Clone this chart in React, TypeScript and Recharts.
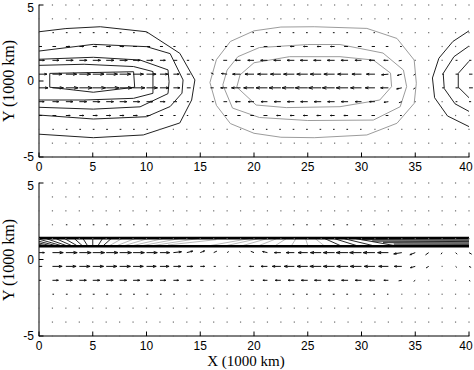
import React from 'react';
import { ComposedChart, Scatter, XAxis, YAxis } from 'recharts';

// grid of the vector field (1000 km)
const X_COLS = [0, 1.25, 2.5, 3.75, 5, 6.25, 7.5, 8.75, 10, 11.25, 12.5, 13.75, 15, 16.25, 17.5, 18.75, 20, 21.25, 22.5, 23.75, 25, 26.25, 27.5, 28.75, 30, 31.25, 32.5, 33.75, 35, 36.25, 37.5, 38.75, 40];
const Y_ROWS = [5, 4.09, 3.18, 2.27, 1.36, 0.45, -0.45, -1.36, -2.27, -3.18, -4.09, -5];
const X_TICKS = [0, 5, 10, 15, 20, 25, 30, 35, 40];
const Y_TICKS = [-5, 0, 5];

// upper panel: u component per row (top row first)
const TOP_U = [
  [0,0,0,0,0,0,0,0,0,0, 0,0,0,0,0,0,0,0,0,0, 0,0,0,0,0,0,0,0,0,0, 0,0,0],
  [0.03,0.04,0.04,0.05,0.05,0.05,0.05,0.04,0.04,0.03, 0.02,0.01,0,-0.01,-0.02,-0.03,-0.04,-0.04,-0.05,-0.05, -0.05,-0.05,-0.05,-0.05,-0.04,-0.04,-0.03,-0.02,-0.01,0, 0.01,0.01,0.02],
  [0.12,0.14,0.16,0.17,0.17,0.17,0.17,0.16,0.14,0.12, 0.09,0.05,0.01,-0.04,-0.09,-0.12,-0.14,-0.15,-0.16,-0.16, -0.16,-0.16,-0.16,-0.16,-0.14,-0.13,-0.1,-0.07,-0.03,0, 0.03,0.04,0.05],
  [0.28,0.34,0.38,0.4,0.4,0.4,0.39,0.37,0.34,0.28, 0.2,0.12,0.03,-0.1,-0.2,-0.28,-0.32,-0.35,-0.37,-0.38, -0.39,-0.39,-0.38,-0.37,-0.34,-0.3,-0.24,-0.16,-0.06,0.01, 0.06,0.1,0.12],
  [0.5,0.61,0.68,0.72,0.72,0.72,0.71,0.66,0.61,0.5, 0.36,0.22,0.06,-0.18,-0.36,-0.5,-0.58,-0.63,-0.66,-0.68, -0.7,-0.7,-0.68,-0.66,-0.61,-0.54,-0.43,-0.29,-0.11,0.01, 0.11,0.18,0.22],
  [0.74,0.89,1.0,1.05,1.05,1.05,1.03,0.97,0.89,0.74, 0.53,0.32,0.08,-0.26,-0.53,-0.74,-0.84,-0.92,-0.97,-1.0, -1.02,-1.02,-1.0,-0.97,-0.89,-0.79,-0.63,-0.42,-0.16,0.02, 0.16,0.26,0.32],
  [0.84,1.02,1.14,1.2,1.2,1.2,1.18,1.1,1.02,0.84, 0.6,0.36,0.1,-0.3,-0.6,-0.84,-0.96,-1.06,-1.1,-1.14, -1.16,-1.16,-1.14,-1.1,-1.02,-0.9,-0.72,-0.48,-0.18,0.02, 0.18,0.3,0.36],
  [0.48,0.58,0.65,0.68,0.68,0.68,0.67,0.63,0.58,0.48, 0.34,0.2,0.05,-0.17,-0.34,-0.48,-0.54,-0.6,-0.63,-0.65, -0.66,-0.66,-0.65,-0.63,-0.58,-0.51,-0.41,-0.27,-0.1,0.01, 0.1,0.17,0.2],
  [0.3,0.36,0.4,0.42,0.42,0.42,0.41,0.39,0.36,0.3, 0.21,0.13,0.03,-0.1,-0.21,-0.3,-0.34,-0.37,-0.39,-0.4, -0.41,-0.41,-0.4,-0.39,-0.36,-0.32,-0.25,-0.17,-0.06,0.01, 0.06,0.1,0.12],
  [0.11,0.13,0.15,0.16,0.16,0.16,0.16,0.15,0.13,0.11, 0.08,0.05,0.01,-0.04,-0.08,-0.11,-0.13,-0.14,-0.15,-0.15, -0.15,-0.15,-0.15,-0.15,-0.13,-0.12,-0.09,-0.06,-0.03,0, 0.03,0.04,0.05],
  [0.03,0.04,0.04,0.05,0.05,0.05,0.05,0.04,0.04,0.03, 0.02,0.01,0,-0.01,-0.02,-0.03,-0.04,-0.04,-0.05,-0.05, -0.05,-0.05,-0.05,-0.05,-0.04,-0.04,-0.03,-0.02,-0.01,0, 0.01,0.01,0.02],
  [0,0,0,0,0,0,0,0,0,0, 0,0,0,0,0,0,0,0,0,0, 0,0,0,0,0,0,0,0,0,0, 0,0,0],
];
// [row, col, v] for the few tilted arrows
const TOP_TILT = [[4,13,0.08],[5,13,0.12],[5,14,0.06],[4,27,-0.05],[5,26,-0.06],[5,27,-0.12],[5,28,-0.1],[6,27,-0.1],[6,28,-0.12],[7,26,-0.06],[7,27,-0.1]];

// lower panel
const BOT_U = [
  [0,0,0,0,0,0,0,0,0,0, 0,0,0,0,0,0,0,0,0,0, 0,0,0,0,0,0,0,0,0,0, 0,0,0],
  [0,0,0,0,0,0,0,0,0,0, 0,0,0,0,0,0,0,0,0,0, 0,0,0,0,0,0,0,0,0,0, 0,0,0],
  [0,0,0,0,0,0,0,0,0,0, 0,0,0,0,0,0,0,0,0,0, 0,0,0,0,0,0,0,0,0,0, 0,0,0],
  [0.08,0.12,0.14,0.15,0.15,0.15,0.15,0.14,0.13,0.12, 0.1,0.08,0.05,0.02,-0.02,-0.05,-0.08,-0.1,-0.12,-0.13, -0.14,-0.15,-0.15,-0.15,-0.14,-0.13,-0.12,-0.1,-0.07,-0.04, 0,0.03,0.05],
  [0,0,0,0,0,0,0,0,0,0, 0,0,0,0,0,0,0,0,0,0, 0,0,0,0,0,0,0,0,0,0, 0,0,0],
  [0.5,1.0,1.05,1.1,1.1,1.1,1.1,1.05,1.0,0.9, 0.75,0.55,0.4,0.3,0.15,-0.12,-0.3,-0.45,-0.6,-0.75, -0.9,-1.0,-1.05,-1.1,-1.1,-1.1,-1.0,-0.75,-0.5,-0.3, -0.1,0.15,0.25],
  [0.3,0.9,0.95,1.0,1.0,1.0,1.0,0.95,0.9,0.85, 0.7,0.55,0.4,0.2,0,-0.2,-0.4,-0.6,-0.8,-0.95, -1.0,-1.05,-1.05,-1.05,-1.05,-1.0,-0.9,-0.7,-0.45,-0.25, -0.05,0.12,0.2],
  [0.2,0.55,0.6,0.65,0.65,0.65,0.65,0.62,0.6,0.55, 0.48,0.4,0.3,0.15,0,-0.15,-0.3,-0.42,-0.52,-0.58, -0.6,-0.62,-0.62,-0.6,-0.58,-0.52,-0.42,-0.3,-0.15,-0.05, 0,0.08,0.12],
  [0.05,0.15,0.17,0.18,0.18,0.18,0.18,0.17,0.16,0.15, 0.13,0.1,0.07,0.03,0,-0.03,-0.07,-0.1,-0.13,-0.15, -0.16,-0.17,-0.17,-0.17,-0.16,-0.15,-0.13,-0.1,-0.06,-0.03, 0,0.02,0.03],
  [0,0,0,0,0,0,0,0,0,0, 0,0,0,0,0,0,0,0,0,0, 0,0,0,0,0,0,0,0,0,0, 0,0,0],
  [0,0,0,0,0,0,0,0,0,0, 0,0,0,0,0,0,0,0,0,0, 0,0,0,0,0,0,0,0,0,0, 0,0,0],
  [0,0,0,0,0,0,0,0,0,0, 0,0,0,0,0,0,0,0,0,0, 0,0,0,0,0,0,0,0,0,0, 0,0,0],
];
const BOT_TILT = [[5,10,0.08],[5,11,0.14],[5,12,0.16],[5,13,0.14],[5,14,0.1],[5,15,0.1],[5,16,0.12],[5,17,0.1],[5,27,-0.12],[5,28,-0.2],[5,29,-0.22],[5,30,-0.15],[5,31,-0.15],[5,32,-0.15],[6,28,-0.12],[6,29,-0.15],[6,31,-0.1],[6,32,-0.1],[7,27,-0.05],[7,28,-0.1],[7,31,-0.08],[7,32,-0.08]];

// contours, upper panel
const TOP_BLACK = [
  [[0,3.24],[2.5,3.45],[5.7,3.57],[10,3.24],[13.1,1.82],[14.5,0.07],[14.2,-1.25],[13.1,-2.76],[9.7,-3.55],[5.05,-3.73],[0,-3.5]],
  [[0,1.97],[5.05,2.41],[10,2.26],[12.2,1.8],[13.4,0.07],[13.3,-0.8],[12.2,-1.68],[10,-2.35],[5.05,-2.5],[0,-2.24]],
  [[0,1.43],[5.05,1.56],[9.4,1.38],[12.0,0.73],[12.1,-0.05],[12.0,-0.83],[9.4,-1.7],[5.05,-1.85],[0,-1.73]],
  [[0,1.03],[4.2,1.1],[8.8,0.95],[10.6,0.62],[10.6,-0.81],[8.8,-1.14],[4.2,-1.25],[0,-1.25]],
  [[1.0,0.5],[8.8,0.61],[8.9,-0.41],[5.05,-0.74],[1.0,-0.41],[1.0,0.5]],
  [[40,3.3],[38.5,2.6],[37.2,1.5],[36.6,0.2],[36.8,-1.1],[38,-2.3],[40,-3.0]],
  [[40,2.3],[38.6,1.6],[37.6,0.5],[37.7,-0.5],[38.7,-1.5],[40,-2.0]],
  [[40,1.3],[39.0,0.5],[39.0,-0.4],[40,-1.1]],
];
const TOP_GRAY = [
  [[15.9,-0.1],[16.5,1.4],[17.8,2.6],[20,3.3],[22.5,3.55],[25.6,3.57],[30.5,3.46],[33.3,2.8],[34.9,1.38],[35.1,-0.15],[34.9,-1.47],[33.3,-2.78],[30.5,-3.55],[25.6,-3.73],[22.5,-3.7],[20,-3.44],[17.8,-2.8],[16.5,-1.6],[15.9,-0.1]],
  [[17.1,-0.26],[17.5,0.72],[18.5,1.6],[20.5,2.2],[25,2.4],[28,2.4],[32,1.84],[33.9,0.72],[34.2,-0.37],[33.6,-1.69],[31.1,-2.57],[25,-2.6],[20.5,-2.4],[18.0,-1.78],[17.1,-0.26]],
  [[18.4,-0.4],[18.7,0.4],[20,1.2],[23.3,1.6],[28,1.6],[31.1,1.38],[32.7,0.52],[32.8,-0.37],[31.7,-1.25],[28,-1.69],[23,-1.75],[20.2,-1.58],[18.4,-0.4]],
];

// lower panel: thin layer bounded by two heavy lines
const BAND_EDGES = [1.4, 0.87];
const BAND_BLACK = [
  [[0.5,0.92],[0,0.99]], [[1.0,0.92],[0,1.08]], [[1.5,0.92],[0,1.19]], [[2.0,0.92],[0,1.33]],
  [[2.5,0.92],[0.7,1.36]], [[3.0,0.92],[1.6,1.36]], [[3.5,0.92],[2.4,1.36]], [[4.0,0.92],[3.3,1.36]],
  [[4.5,0.92],[4.1,1.36]], [[5.0,0.92],[5.0,1.36]], [[5.5,0.92],[5.9,1.36]], [[6.0,0.92],[6.7,1.36]],
  [[28,0.92],[26.6,1.36]], [[29.5,0.92],[27.5,1.36]], [[31,0.92],[28.4,1.36]], [[33,0.92],[29.5,1.36]],
  [[30,1.3],[40,1.26]], [[31,1.2],[40,1.17]], [[32,1.1],[40,1.08]], [[33,1.0],[40,0.99]],
];
const BAND_GRAY = [
  [[6.6,0.92],[7.7,1.36]], [[7.3,0.92],[8.9,1.36]], [[8.0,0.92],[10.1,1.36]], [[8.8,0.92],[11.5,1.36]],
  [[9.7,0.92],[13.0,1.36]], [[10.7,0.92],[14.7,1.36]], [[12.0,0.95],[16.5,1.3]],
  [[16,0.92],[19.5,1.36]], [[17.5,0.92],[20.35,1.36]], [[19,0.92],[21.2,1.36]], [[20.5,0.92],[22.1,1.36]],
  [[22,0.92],[23.0,1.36]], [[23.5,0.92],[23.9,1.36]], [[25,0.92],[24.8,1.36]], [[26.5,0.92],[25.7,1.36]],
  [[33,1.05],[40,1.04]], [[32,1.15],[40,1.13]], [[31,1.24],[40,1.22]],
];

const W = 474;
const PLOT_L = 39;
const PLOT_R = 469;
const PX = (PLOT_R - PLOT_L) / 40;
const SANS = '"Liberation Sans", Arial, sans-serif';
const SERIF = '"Liberation Serif", "Times New Roman", serif';

type Vec = { x: number; y: number; u: number; v: number };

function buildField(U: number[][], tilt: number[][]): Vec[] {
  const out: Vec[] = [];
  U.forEach((row, r) =>
    row.forEach((u, c) => {
      const t = tilt.find((e) => e[0] === r && e[1] === c);
      out.push({ x: X_COLS[c], y: Y_ROWS[r], u, v: t ? t[2] : 0 });
    })
  );
  return out;
}

const Arrow = (p: any) => {
  const { cx, cy, payload } = p;
  if (cx == null || cy == null) return <g />;
  const dx = payload.u * PX;
  const dy = -payload.v * PX;
  const len = Math.hypot(dx, dy);
  if (len < 1.3) {
    return <rect x={cx - 0.6} y={cy - 0.6} width={1.2} height={1.2} fill="#6b6b6b" />;
  }
  const tx = cx + dx;
  const ty = cy + dy;
  const a = 0.33;
  const b = 0.33;
  const h1x = tx - a * (dx + b * dy);
  const h1y = ty - a * (dy - b * dx);
  const h2x = tx - a * (dx - b * dy);
  const h2y = ty - a * (dy + b * dx);
  return (
    <g stroke="#111" strokeWidth={1} fill="none">
      <line x1={cx} y1={cy} x2={tx} y2={ty} />
      {len > 4 && <polyline points={`${h1x},${h1y} ${tx},${ty} ${h2x},${h2y}`} />}
    </g>
  );
};

const Empty = () => <g />;

// labels at the very edges are nudged inward so they stay inside the picture
const BottomTick = (p: any) => (
  <g>
    <line x1={p.x} x2={p.x} y1={p.y} y2={p.y - 4.5} stroke="#000" />
    <text x={Math.min(p.x, W - 8)} y={p.y + 14} textAnchor="middle" fontSize={12} fontFamily={SANS} fill="#000">
      {p.payload.value}
    </text>
  </g>
);
const TopTick = (p: any) => <line x1={p.x} x2={p.x} y1={p.y} y2={p.y + 4.5} stroke="#000" />;
const LeftTick = (p: any) => (
  <g>
    <line x1={p.x} x2={p.x + 4.5} y1={p.y} y2={p.y} stroke="#000" />
    <text x={p.x - 5} y={Math.max(p.y + 4, 12)} textAnchor="end" fontSize={12} fontFamily={SANS} fill="#000">
      {p.payload.value}
    </text>
  </g>
);
const RightTick = (p: any) => <line x1={p.x} x2={p.x - 4.5} y1={p.y} y2={p.y} stroke="#000" />;

type Poly = { pts: number[][]; color: string; w: number };

function Panel({ field, lines, height }: { field: Vec[]; lines: Poly[]; height: number }) {
  return (
    <ComposedChart width={W} height={height} margin={{ top: 5, right: W - PLOT_R, bottom: 0, left: 0 }}>
      <XAxis dataKey="x" type="number" domain={[0, 40]} ticks={X_TICKS} interval={0} height={20}
        tickSize={0} tickMargin={0} tickLine={false} axisLine={{ stroke: '#000' }} tick={(p: any) => <BottomTick {...p} />} />
      <XAxis xAxisId="top" orientation="top" dataKey="x" type="number" domain={[0, 40]} ticks={X_TICKS} interval={0} height={0}
        tickSize={0} tickMargin={0} tickLine={false} axisLine={{ stroke: '#000' }} tick={(p: any) => <TopTick {...p} />} />
      <YAxis dataKey="y" type="number" domain={[-5, 5]} ticks={Y_TICKS} interval={0} width={PLOT_L}
        tickSize={0} tickMargin={0} tickLine={false} axisLine={{ stroke: '#000' }} tick={(p: any) => <LeftTick {...p} />} />
      <YAxis yAxisId="right" orientation="right" dataKey="y" type="number" domain={[-5, 5]} ticks={Y_TICKS} interval={0} width={0}
        tickSize={0} tickMargin={0} tickLine={false} axisLine={{ stroke: '#000' }} tick={(p: any) => <RightTick {...p} />} />
      {lines.map((l, i) => (
        <Scatter key={'c' + i} data={l.pts.map(([x, y]) => ({ x, y }))} line={{ stroke: l.color, strokeWidth: l.w }}
          shape={Empty} isAnimationActive={false} />
      ))}
      <Scatter data={field} shape={Arrow} isAnimationActive={false} />
    </ComposedChart>
  );
}

export default function App() {
  const topField = buildField(TOP_U, TOP_TILT);
  const botField = buildField(BOT_U, BOT_TILT);
  const topLines: Poly[] = [
    ...TOP_GRAY.map((pts) => ({ pts, color: '#9c9c9c', w: 1 })),
    ...TOP_BLACK.map((pts) => ({ pts, color: '#222', w: 1 })),
  ];
  const botLines: Poly[] = [
    ...BAND_GRAY.map((pts) => ({ pts, color: '#a8a8a8', w: 0.8 })),
    ...BAND_BLACK.map((pts) => ({ pts, color: '#111', w: 0.9 })),
    ...BAND_EDGES.map((y) => ({ pts: [[0, y], [40, y]], color: '#000', w: 2.6 })),
  ];
  return (
    <div style={{ position: 'absolute', left: 0, top: 0, width: W, height: 370, background: '#fff' }}>
      <div style={{ position: 'absolute', left: 0, top: 0 }}>
        <Panel field={topField} lines={topLines} height={177} />
      </div>
      <div style={{ position: 'absolute', left: 0, top: 178 }}>
        <Panel field={botField} lines={botLines} height={178} />
      </div>
      <svg width={W} height={370} style={{ position: 'absolute', left: 0, top: 0, pointerEvents: 'none' }}>
        <text x={14} y={81} transform="rotate(-90 14 81)" textAnchor="middle" fontSize={16} fontFamily={SERIF} fill="#000">
          Y (1000 km)
        </text>
        <text x={14} y={260} transform="rotate(-90 14 260)" textAnchor="middle" fontSize={16} fontFamily={SERIF} fill="#000">
          Y (1000 km)
        </text>
        <text x={246} y={366} textAnchor="middle" fontSize={15} fontFamily={SERIF} fill="#000">
          X (1000 km)
        </text>
      </svg>
    </div>
  );
}
